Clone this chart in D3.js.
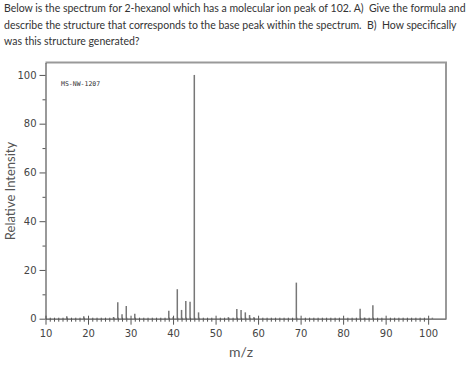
<!DOCTYPE html>
<html>
<head>
<meta charset="utf-8">
<script src="https://cdn.jsdelivr.net/npm/d3@7"></script>
<style>
  body { margin: 0; background: #fff; }
  svg { display: block; }
  .hdr { font-family: Lato, sans-serif; font-size: 10.5px; fill: #333; white-space: pre; }
  .axis text { font-family: "DejaVu Sans", Verdana, sans-serif; font-size: 10px; fill: #444; }
  .axis path, .axis line { stroke: #555; }
</style>
</head>
<body>
<div id="chart"></div>
<script>
var questionLines = [
  "Below is the spectrum for 2-hexanol which has a molecular ion peak of 102. A)  Give the formula and",
  "describe the structure that corresponds to the base peak within the spectrum.  B)  How specifically",
  "was this structure generated?"
];

// m/z values and relative intensities
var mz        = [15, 19, 26, 27, 28, 29, 31, 39, 40, 41, 42, 43, 44, 45, 46, 53, 55, 56, 57, 58, 59, 69, 84, 85, 87, 101];
var intensity = [1, 1, 0.7, 6.7, 1.8, 5.2, 2, 3.3, 0.6, 12.1, 3.6, 7.3, 7.0, 100, 2.6, 0.6, 4.0, 3.6, 2.6, 1.5, 0.6, 14.8, 4.1, 0.4, 5.5, 0.4];

var xTicks = [10, 20, 30, 40, 50, 60, 70, 80, 90, 100];
var yTicks = [0, 20, 40, 60, 80, 100];
var yMinorTicks = [10, 30, 50, 70, 90];

var W = 474, H = 372;
var plotL = 45.5, plotR = 446, plotT = 62.5, plotB = 318.7;

var svg = d3.select("#chart").append("svg")
      .attr("width", W)
      .attr("height", H);

// question text
svg.selectAll(".hdr")
      .data(questionLines)
      .enter().append("text")
      .attr("class", "hdr")
      .attr("x", 4)
      .attr("y", function (d, i) { return 12 + i * 16.5; })
      .text(function (d) { return d; });

var x = d3.scaleLinear()
      .domain([10, 104.2])
      .range([plotL, plotR]);
var y = d3.scaleLinear()
      .domain([0, 105.1])
      .range([plotB, plotT]);

// top and right border
svg.append("path")
      .attr("d", "M" + plotL + "," + plotT + "H" + plotR + "V" + plotB)
      .attr("fill", "none")
      .attr("stroke", "#999")
      .attr("stroke-width", 2);

// peaks
var peaks = mz.map(function (m, i) { return { mz: m, val: intensity[i] }; });
svg.selectAll(".peak")
      .data(peaks)
      .enter().append("line")
      .attr("class", "peak")
      .attr("x1", function (d) { return x(d.mz); })
      .attr("x2", function (d) { return x(d.mz); })
      .attr("y1", y(0))
      .attr("y2", function (d) { return y(d.val); })
      .attr("stroke", "#777")
      .attr("stroke-width", 1.5);

// x axis: minor ticks every unit
var minorX = d3.range(11, 100).filter(function (v) { return v % 10 !== 0; });
svg.append("g")
      .attr("class", "axis")
      .attr("transform", "translate(0," + plotB + ")")
      .call(d3.axisBottom(x).tickValues(minorX).tickSize(3).tickFormat(""))
      .call(function (g) { g.select(".domain").remove(); })
      .selectAll("line").attr("y1", -1);

var gx = svg.append("g")
      .attr("class", "axis")
      .attr("transform", "translate(0," + plotB + ")")
      .call(d3.axisBottom(x).tickValues(xTicks).tickSize(6).tickSizeOuter(0).tickPadding(5));
gx.selectAll(".tick line").attr("y1", -3);
gx.select(".domain").attr("stroke-width", 1.2);

// y axis
svg.append("g")
      .attr("class", "axis")
      .attr("transform", "translate(" + plotL + ",0)")
      .call(d3.axisLeft(y).tickValues(yMinorTicks).tickSize(3).tickFormat(""))
      .call(function (g) { g.select(".domain").remove(); });

var gy = svg.append("g")
      .attr("class", "axis")
      .attr("transform", "translate(" + plotL + ",0)")
      .call(d3.axisLeft(y).tickValues(yTicks).tickSize(6).tickSizeOuter(0).tickPadding(3));
gy.select(".domain").attr("stroke-width", 1.2);

// sample id
svg.append("text")
      .attr("x", 61)
      .attr("y", 85.5)
      .style("font-family", "'DejaVu Sans Mono', monospace")
      .style("font-size", "6.5px")
      .style("fill", "#333")
      .text("MS-NW-1207");

// axis titles
svg.append("text")
      .attr("transform", "translate(" + 15 + "," + 191 + ") rotate(-90)")
      .attr("text-anchor", "middle")
      .style("font-family", "Lato, sans-serif")
      .style("font-size", "13px")
      .style("fill", "#555")
      .text("Relative Intensity");

svg.append("text")
      .attr("x", 241)
      .attr("y", 357)
      .attr("text-anchor", "middle")
      .style("font-family", "Lato, sans-serif")
      .style("font-size", "14px")
      .style("fill", "#555")
      .text("m/z");
</script>
</body>
</html>
